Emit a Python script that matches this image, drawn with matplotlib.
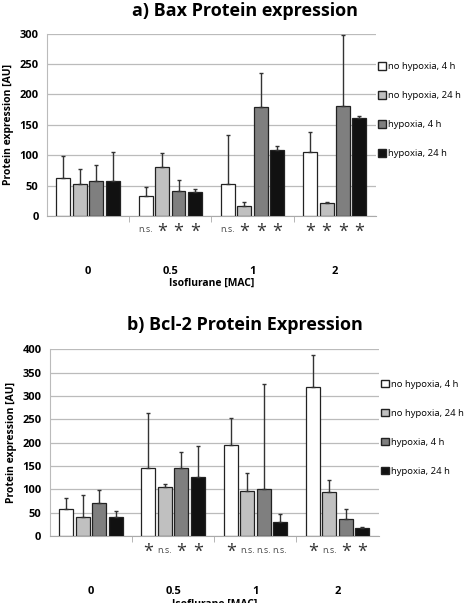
import matplotlib
matplotlib.use("Agg")
import matplotlib.pyplot as plt
import numpy as np
from matplotlib.patches import Rectangle

plt.rcParams['font.family'] = ['Open Sans', 'DejaVu Sans']

categories = ['0', '0.5', '1', '2']
series = ['no hypoxia, 4 h', 'no hypoxia, 24 h', 'hypoxia, 4 h', 'hypoxia, 24 h']
colors = ['white', '#c0c0c0', '#7f7f7f', '#111111']

bax_vals = [[62, 33, 52, 105], [52, 80, 17, 21], [57, 41, 180, 181], [58, 40, 109, 161]]
bax_tops = [[99, 47, 133, 138], [78, 103, 23, 23], [84, 59, 236, 298], [105, 45, 115, 164]]
bax_sig = [['', 'n.s.', 'n.s.', '*'], ['', '*', '*', '*'], ['', '*', '*', '*'], ['', '*', '*', '*']]

bcl_vals = [[58, 145, 194, 320], [41, 104, 96, 94], [71, 145, 100, 36], [41, 127, 30, 18]]
bcl_tops = [[82, 263, 252, 388], [88, 112, 136, 119], [98, 179, 326, 57], [53, 192, 47, 20]]
bcl_sig = [['', '*', '*', '*'], ['', 'n.s.', 'n.s.', 'n.s.'], ['', '*', 'n.s.', '*'], ['', '*', 'n.s.', '*']]

fig = plt.figure(figsize=(4.74, 6.03), dpi=100)

def panel(rect, vals, tops, sig, ymax, ystep, title, title_y):
    ax = fig.add_axes(rect)
    x = np.arange(len(categories))
    w = 0.17
    for i in range(4):
        xs = x + (i - 1.5) * 0.2
        v = np.array(vals[i]); t = np.array(tops[i])
        ax.bar(xs, v, w, color=colors[i], edgecolor='#222222', linewidth=0.9, zorder=3)
        ax.errorbar(xs, v, yerr=[np.zeros(4), t - v], fmt='none', ecolor='#333333',
                    elinewidth=1.0, capsize=1.5, zorder=4)
        for j in range(4):
            s = sig[i][j]
            if s:
                if s == '*':
                    ax.text(xs[j], -0.085, '*', transform=ax.get_xaxis_transform(),
                            ha='center', va='center', fontsize=13, color='#333333')
                else:
                    ax.text(xs[j], -0.075, s, transform=ax.get_xaxis_transform(),
                            ha='center', va='center', fontsize=6.5, color='#444444')
    ax.set_xlim(-0.5, 3.5)
    ax.set_ylim(0, ymax)
    ax.set_yticks(np.arange(0, ymax + 1, ystep))
    ax.set_xticks(x)
    ax.set_xticklabels(categories, fontsize=8, fontweight='bold')
    ax.tick_params(axis='x', length=0, pad=36)
    ax.set_xticks([0.5, 1.5, 2.5], minor=True)
    ax.tick_params(axis='x', which='minor', length=4, color='#aaaaaa', direction='out')
    ax.tick_params(axis='y', length=0, labelsize=8, pad=6)
    for lab in ax.get_yticklabels():
        lab.set_fontweight('bold')
    ax.grid(axis='y', color='#bbbbbb', linewidth=0.9, zorder=0)
    for sp in ['top', 'right']:
        ax.spines[sp].set_visible(False)
    ax.spines['left'].set_color('#bbbbbb')
    ax.spines['bottom'].set_color('#aaaaaa')
    ax.set_ylabel('Protein expression [AU]', fontsize=7.5, fontweight='bold', labelpad=4)
    ax.set_xlabel('Isoflurane [MAC]', fontsize=7.5, fontweight='bold', labelpad=1)
    fig.text(0.517, title_y, title, ha='center', va='center', fontsize=13, fontweight='bold')
    handles = [Rectangle((0, 0), 1, 1, facecolor=colors[i], edgecolor='#222222') for i in range(4)]
    ax.legend(handles, series, loc='center left', bbox_to_anchor=(0.99, 0.58), frameon=False,
              fontsize=6.8, labelspacing=2.1, handlelength=0.8, handleheight=0.9,
              handletextpad=0.25, borderaxespad=0.2)
    return ax

panel([0.099, 0.642, 0.694, 0.302], bax_vals, bax_tops, bax_sig, 300, 50,
      'a) Bax Protein expression', 1 - 11 / 603)
panel([0.105, 0.111, 0.694, 0.310], bcl_vals, bcl_tops, bcl_sig, 400, 50,
      'b) Bcl-2 Protein Expression', 1 - 325 / 603)

fig.savefig('out.png', dpi=100)
